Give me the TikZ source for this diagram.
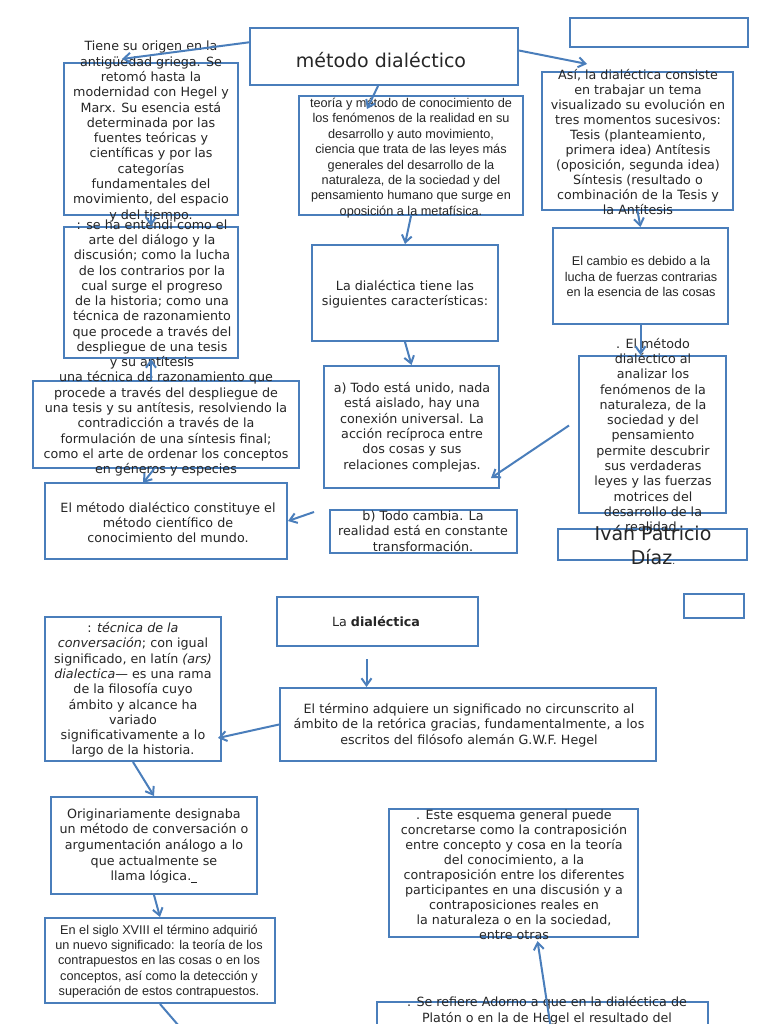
\documentclass[tikz,border=0pt]{standalone}
\usepackage{fontspec}
\setmainfont{DejaVu Sans}
\newfontfamily\arialf{Liberation Sans}
\usetikzlibrary{arrows.meta,positioning,calc}
\definecolor{azulc}{HTML}{4A7EBB}
\definecolor{tinta}{HTML}{262626}
\tikzset{
  caja/.style={rectangle, draw=azulc, line width=2pt, inner sep=0pt},
  texto/.style={align=center, inner sep=0pt, text=tinta, font=\fontsize{12.7}{15.3}\selectfont},
  textoar/.style={texto, font=\arialf\fontsize{12.7}{15.4}\selectfont},
  grande/.style={texto, font=\fontsize{19}{23.5}\selectfont},
  flecha/.style={-{Straight Barb[length=7pt,width=10pt]}, line width=2pt, draw=azulc},
}
\begin{document}
\begin{tikzpicture}[x=1pt,y=-1pt]
  \useasboundingbox (0,0) rectangle (768,1024);
  \fill[white] (0,0) rectangle (768,1024);
  % cajas, parte de arriba
  \node[caja, minimum width=268pt, minimum height=57pt] (titulo) at (384,56.5) {};
  \node[caja, minimum width=178pt, minimum height=29pt] (vacio1) at (659,32.5) {};
  \node[caja, minimum width=174pt, minimum height=152pt] (origen) at (151,139) {};
  \node[caja, minimum width=224pt, minimum height=119pt] (teoria) at (411,155.5) {};
  \node[caja, minimum width=191pt, minimum height=138pt] (asi) at (637.5,141) {};
  \node[caja, minimum width=174pt, minimum height=131pt] (entendi) at (151,292.5) {};
  \node[caja, minimum width=186pt, minimum height=96pt] (tiene) at (405,293) {};
  \node[caja, minimum width=175pt, minimum height=96pt] (cambio) at (640.5,276) {};
  \node[caja, minimum width=266pt, minimum height=87pt] (tecnica) at (166,424.5) {};
  \node[caja, minimum width=175pt, minimum height=122pt] (unido) at (411.5,427) {};
  \node[caja, minimum width=147pt, minimum height=157pt] (analizar) at (652.5,434.5) {};
  \node[caja, minimum width=242pt, minimum height=76pt] (constituye) at (166,521) {};
  \node[caja, minimum width=187pt, minimum height=43pt] (cambia) at (423.5,531.5) {};
  \node[caja, minimum width=189pt, minimum height=31pt] (ivan) at (652.5,544.5) {};
  \node[caja, minimum width=60pt, minimum height=24pt] (vacio2) at (714,606) {};
  % cajas, parte de abajo
  \node[caja, minimum width=201pt, minimum height=49pt] (ladial) at (377.5,621.5) {};
  \node[caja, minimum width=176pt, minimum height=144pt] (conv) at (133,689) {};
  \node[caja, minimum width=376pt, minimum height=73pt] (termino) at (468,724.5) {};
  \node[caja, minimum width=206pt, minimum height=97pt] (orig) at (154,845.5) {};
  \node[caja, minimum width=249pt, minimum height=128pt] (esquema) at (513.5,873) {};
  \node[caja, minimum width=230pt, minimum height=85pt] (siglo) at (160,960.5) {};
  \node[caja, minimum width=331pt, minimum height=98pt] (adorno) at (542.5,1051) {};

  % textos
  \node[grande] (titulo-t) at (381,60) {método dialéctico};
  \node[texto] (origen-t) at (151,131.5) {Tiene su origen en la\\ antigüedad griega. Se\\ retomó hasta la\\ modernidad con Hegel y\\ Marx. Su esencia está\\ determinada por las\\ fuentes teóricas y\\ científicas y por las\\ categorías\\ fundamentales del\\ movimiento, del espacio\\ y del tiempo.};
  \node[textoar] (teoria-t) at (411,158) {teoría y método de conocimiento de\\ los fenómenos de la realidad en su\\ desarrollo y auto movimiento,\\ ciencia que trata de las leyes más\\ generales del desarrollo de la\\ naturaleza, de la sociedad y del\\ pensamiento humano que surge en\\ oposición a la metafísica.};
  \node[texto, font=\fontsize{12.7}{15}\selectfont] (asi-t) at (638,142) {Así, la dialéctica consiste\\ en trabajar un tema\\ visualizado su evolución en\\ tres momentos sucesivos:\\ Tesis (planteamiento,\\ primera idea) Antítesis\\ (oposición, segunda idea)\\ Síntesis (resultado o\\ combinación de la Tesis y\\ la Antítesis};
  \node[texto] (entendi-t) at (152,294.5) {: se ha entendi como el\\ arte del diálogo y la\\ discusión; como la lucha\\ de los contrarios por la\\ cual surge el progreso\\ de la historia; como una\\ técnica de razonamiento\\ que procede a través del\\ despliegue de una tesis\\ y su antítesis};
  \node[texto] (tiene-t) at (405,294.5) {La dialéctica tiene las\\ siguientes características:};
  \node[textoar] (cambio-t) at (641,276.5) {El cambio es debido a la\\ lucha de fuerzas contrarias\\ en la esencia de las cosas};
  \node[texto] (tecnica-t) at (166,424) {una técnica de razonamiento que\\ procede a través del despliegue de\\ una tesis y su antítesis, resolviendo la\\ contradicción a través de la\\ formulación de una síntesis final;\\ como el arte de ordenar los conceptos\\ en géneros y especies};
  \node[texto] (unido-t) at (412,427) {a) Todo está unido, nada\\ está aislado, hay una\\ conexión universal. La\\ acción recíproca entre\\ dos cosas y sus\\ relaciones complejas.};
  \node[texto] (analizar-t) at (653,435) {. El método\\ dialéctico al\\ analizar los\\ fenómenos de la\\ naturaleza, de la\\ sociedad y del\\ pensamiento\\ permite descubrir\\ sus verdaderas\\ leyes y las fuerzas\\ motrices del\\ desarrollo de la\\ realidad.};
  \node[texto] (constituye-t) at (168,522.5) {El método dialéctico constituye el\\ método científico de\\ conocimiento del mundo.};
  \node[texto] (cambia-t) at (423,531) {b) Todo cambia. La\\ realidad está en constante\\ transformación.};
  \node[grande] (ivan-t) at (653,545) {Iván Patricio\\ Díaz\textnormal{\small .}};
  \node[texto] (ladial-t) at (376,622) {La \textbf{dialéctica}};
  \node[texto] (conv-t) at (133,690) {: \textit{técnica de la}\\ \textit{conversación}; con igual\\ significado, en latín \textit{(ars)}\\ \textit{dialectica}— es una rama\\ de la filosofía cuyo\\ ámbito y alcance ha\\ variado\\ significativamente a lo\\ largo de la historia.};
  \node[texto] (termino-t) at (469,725) {El término adquiere un significado no circunscrito al\\ ámbito de la retórica gracias, fundamentalmente, a los\\ escritos del filósofo alemán G.W.F. Hegel};
  \node[texto, font=\fontsize{12.7}{15.6}\selectfont] (orig-t) at (154,846) {Originariamente designaba\\ un método de conversación o\\ argumentación análogo a lo\\ que actualmente se\\ llama lógica.\underline{\ \,}};
  \node[texto, font=\fontsize{12.7}{15}\selectfont] (esquema-t) at (514,875) {. Este esquema general puede\\ concretarse como la contraposición\\ entre concepto y cosa en la teoría\\ del conocimiento, a la\\ contraposición entre los diferentes\\ participantes en una discusión y a\\ contraposiciones reales en\\ la naturaleza o en la sociedad,\\ entre otras};
  \node[textoar] (siglo-t) at (159,961.5) {En el siglo XVIII el término adquirió\\ un nuevo significado: la teoría de los\\ contrapuestos en las cosas o en los\\ conceptos, así como la detección y\\ superación de estos contrapuestos.};
  \node[texto, font=\fontsize{12.7}{16}\selectfont] (adorno-t) at (547,1010.5) {. Se refiere Adorno a que en la dialéctica de\\ Platón o en la de Hegel el resultado del};

  % flechas
  \coordinate (sigfin) at (191,1040);
  \draw[flecha] (titulo.174) -- ($(origen.north west)!0.335!(origen.north east)+(0,-3)$);
  \draw[flecha] ($(titulo.south)+(-6,0)$) -- ($(teoria.north)+(-44,14)$);
  \draw[flecha] ($(titulo.east)+(0,-6)$) -- ($(asi.north west)+(46,-7)$);
  \draw[flecha] (teoria.south) -- (tiene.north);
  \draw[flecha] (tiene.south) -- (unido.north);
  \draw[flecha] (asi.south) -- (cambio.north);
  \draw[flecha] (cambio.south) -- (cambio.south |- analizar.north);
  \draw[flecha] ($(analizar.west)+(-9,-9)$) -- ($(unido.south east)+(-9,-11)$);
  \draw[flecha] ($(cambia.north west)+(-15,3)$) -- (constituye.east);
  \draw[flecha] (origen.south) -- (entendi.north);
  \draw[flecha] (entendi.south |- tecnica.north) -- (entendi.south);
  \draw[flecha] ($(tecnica.south)+(-12,0)$) -- ($(constituye.north)+(-23,1)$);
  \draw[flecha] ($(ladial.south)+(-11,12)$) -- ($(termino.north -| ladial.south)+(-11,0)$);
  \draw[flecha] (termino.west) -- ($(conv.south east)+(-4,-24)$);
  \draw[flecha] (conv.south) -- (orig.north);
  \draw[flecha] (orig.south) -- (siglo.north);
  \draw[flecha] (siglo.south) -- (sigfin);
  \draw[flecha] ($(adorno.north)+(10,38)$) -- ($(esquema.south)+(24,3)$);
\end{tikzpicture}
\end{document}
